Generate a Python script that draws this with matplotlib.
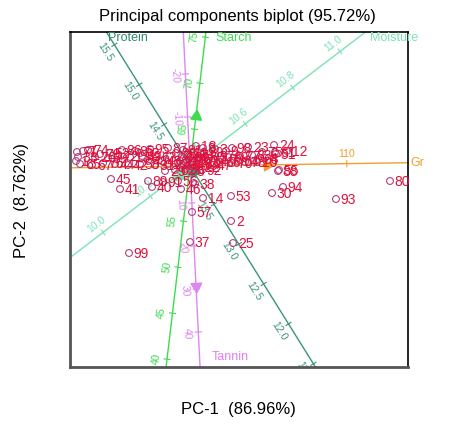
import numpy as np
import matplotlib
matplotlib.use("Agg")
import matplotlib.pyplot as plt

plt.rcParams['font.family'] = ['Liberation Sans', 'DejaVu Sans']

# sample scores (PC-1, PC-2)
labels = ["80", "93", "94", "30", "53", "2", "25", "14", "57", "37", "99", "45", "41", "40",
          "89", "91", "56", "46", "38", "88", "55", "4", "61", "51", "24", "12", "10",
          "7", "74", "52", "86", "85", "95", "87", "81", "18", "8",
          "33", "26", "59", "72", "13", "49", "63", "27", "16", "34", "50", "97", "69", "77",
          "83", "9", "98", "23", "3",
          "65", "67", "76", "44", "42", "58", "31", "19", "32", "73", "84", "47", "66", "70",
          "78", "36", "62", "29", "5", "6", "11", "15", "17", "20", "22", "28", "39", "43",
          "48", "54", "60", "64", "68", "75", "79", "82", "90", "92", "96", "1", "71"]
pc1 = [20.0, 14.6, 9.3, 8.2, 4.1, 4.1, 4.3, 1.3, 0.2, 0.0, -6.1, -7.9, -7.0, -3.8,
       -4.2, -2.7, -1.2, -0.9, 0.5, 8.8, 8.9, 7.5, 8.5, 8.6, 8.4, 9.7, 6.7,
       -10.7, -10.2, -8.0, -6.8, -5.5, -4.0, -2.2, -0.7, 0.6, 1.3,
       -11.2, -9.5, -8.2, -7.2, -6.0, -4.8, -3.4, -2.0, -0.8, 0.5, 1.5, 2.5, 3.8, 5.0,
       6.2, 3.6, 4.2, 5.8, 2.5,
       -11.0, -9.8, -8.7, -7.5, -6.2, -5.0, -3.5, -2.2, -1.2, -0.2, 1.0, 2.2, 3.0, 4.2,
       5.5, -0.5, -1.5, -2.5, 0.2, 0.7, -0.2, -1.0, 0.3, -0.4, 0.9, -1.4, 1.4, -2.8,
       -4.2, 1.8, 3.3, 4.8, 6.8, 7.2, -9.0, -5.0, 0.0, 1.2, -0.8, -11.4, -11.3]
pc2 = [-1.5, -3.3, -2.1, -2.7, -3.0, -5.5, -7.7, -3.2, -4.6, -7.6, -8.7, -1.3, -2.3, -2.1,
       -1.5, -1.6, -1.5, -2.3, -1.8, -0.5, -0.4, 0.8, 1.4, 1.2, 2.1, 1.5, 0.4,
       1.5, 1.6, 1.3, 1.6, 1.5, 1.7, 1.8, 1.6, 2.0, 1.8,
       0.9, 0.9, 0.8, 1.0, 0.9, 1.0, 0.9, 1.0, 0.9, 1.1, 0.9, 1.0, 0.9, 1.0,
       1.1, 1.5, 1.8, 1.9, 1.7,
       0.2, 0.1, 0.3, 0.2, 0.1, 0.2, 0.1, 0.2, 0.3, 0.1, 0.2, 0.1, 0.4, 0.3,
       0.4, -0.3, -0.4, -0.5, -0.5, 0.7, 1.3, 0.5, 0.4, 0.7, -0.1, 1.3, 1.4, 0.5,
       0.5, 0.5, 0.7, 0.5, 0.7, 1.4, 1.2, 1.3, 0.9, -0.4, 0.1, 0.5, 1.4]

# variable axes: name, value at origin, loading per unit, tick values, arrow value, colour, label side
var_names = ["Gr", "Starch", "Tannin", "Protein", "Moisture"]
var_means = [90.4, 61.0, 1.4, 13.98, 10.367]
var_loads = [(0.8, 0.012), (0.1095, 0.92), (0.0215, -0.43), (-4.975, 7.975), (23.7, 18.1)]
var_ticks = [[110], [40, 45, 50, 55, 60, 65, 70, 75], [-20, -10, 0, 10, 20, 30, 40],
             [11.5, 12.0, 12.5, 13.0, 13.5, 14.0, 14.5, 15.0, 15.5],
             [10.0, 10.2, 10.4, 10.6, 10.8, 11.0]]
var_fmt = ["{:.0f}", "{:.0f}", "{:.0f}", "{:.1f}", "{:.1f}"]
var_arrow = [100, 66.4, 29.3, 13.9, 10.33]
var_colors = ["#F0A030", "#3EDB50", "#DD88EE", "#3A9575", "#7BE3B5"]
var_side = [1, 1, -1, 1, 1]

fig = plt.figure(figsize=(4.74, 4.31), dpi=100)
ax = fig.add_axes([70 / 474, 1 - 368 / 431, 338 / 474, 335 / 431])
ax.set_xlim(-12.0, 21.8)
ax.set_ylim(-20.1, 13.4)

for name, m, ld, ticks, fmt, av, c, side in zip(var_names, var_means, var_loads, var_ticks,
                                                var_fmt, var_arrow, var_colors, var_side):
    ld = np.array(ld)
    u = ld / np.linalg.norm(ld)
    n = np.array([-u[1], u[0]]) * side
    ang = np.degrees(np.arctan2(u[1], u[0]))
    if ang > 90:
        ang -= 180
    elif ang <= -90:
        ang += 180
    big = 80 / np.linalg.norm(ld)
    p0 = (-big) * ld
    p1 = big * ld
    ax.plot([p0[0], p1[0]], [p0[1], p1[1]], color=c, lw=1.0, zorder=2)
    for t in ticks:
        p = (t - m) * ld
        a = p - 0.3 * n
        b = p + 0.3 * n
        ax.plot([a[0], b[0]], [a[1], b[1]], color=c, lw=0.8, zorder=2)
        q = p + 1.1 * n
        rot = 0 if name == "Gr" else ang
        ax.text(q[0], q[1], fmt.format(t), color=c, fontsize=7.5, rotation=rot,
                rotation_mode='anchor', ha='center', va='center', zorder=2, clip_on=True)
    pa = (av - m) * ld
    dang = np.degrees(np.arctan2(u[1], u[0]))
    ax.plot(pa[0], pa[1], marker=(3, 0, dang - 90), color=c, markersize=9, zorder=3)

# variable names at the ends of the axes
ax.text(-8.2, 12.9, "Protein", color="#2E8B6A", fontsize=9, ha='left', va='center')
ax.text(2.5, 12.9, "Starch", color="#3EDB50", fontsize=9, ha='left', va='center')
ax.text(18.0, 12.9, "Moisture", color="#7BE3B5", fontsize=9, ha='left', va='center', clip_on=False)
ax.text(2.2, -19.0, "Tannin", color="#E080F0", fontsize=9, ha='left', va='center')
ax.text(22.0, 0.4, "Gr", color="#F0A030", fontsize=9, ha='left', va='center', clip_on=False)

ax.scatter(pc1, pc2, s=24, facecolors='none', edgecolors='#B0407A', linewidths=0.8, zorder=4)
for x, y, lab in zip(pc1, pc2, labels):
    ax.annotate(lab, (x, y), xytext=(3.5, 0), textcoords='offset points', fontsize=10,
                color='#E0103C', ha='left', va='center', zorder=5, annotation_clip=True)

ax.set_xticks([])
ax.set_yticks([])
for s in ['left', 'bottom']:
    ax.spines[s].set_linewidth(2.0)
    ax.spines[s].set_color('#555555')
for s in ['top', 'right']:
    ax.spines[s].set_linewidth(1.2)
    ax.spines[s].set_color('black')

fig.text(237 / 474, 1 - 16 / 431, "Principal components biplot (95.72%)", fontsize=12,
         ha='center', va='center')
fig.text(238 / 474, 1 - 410 / 431, "PC-1  (86.96%)", fontsize=12, ha='center', va='center')
fig.text(22 / 474, 1 - 200 / 431, "PC-2  (8.762%)", fontsize=12, ha='center', va='center',
         rotation=90)

fig.savefig("out.png", dpi=100)
